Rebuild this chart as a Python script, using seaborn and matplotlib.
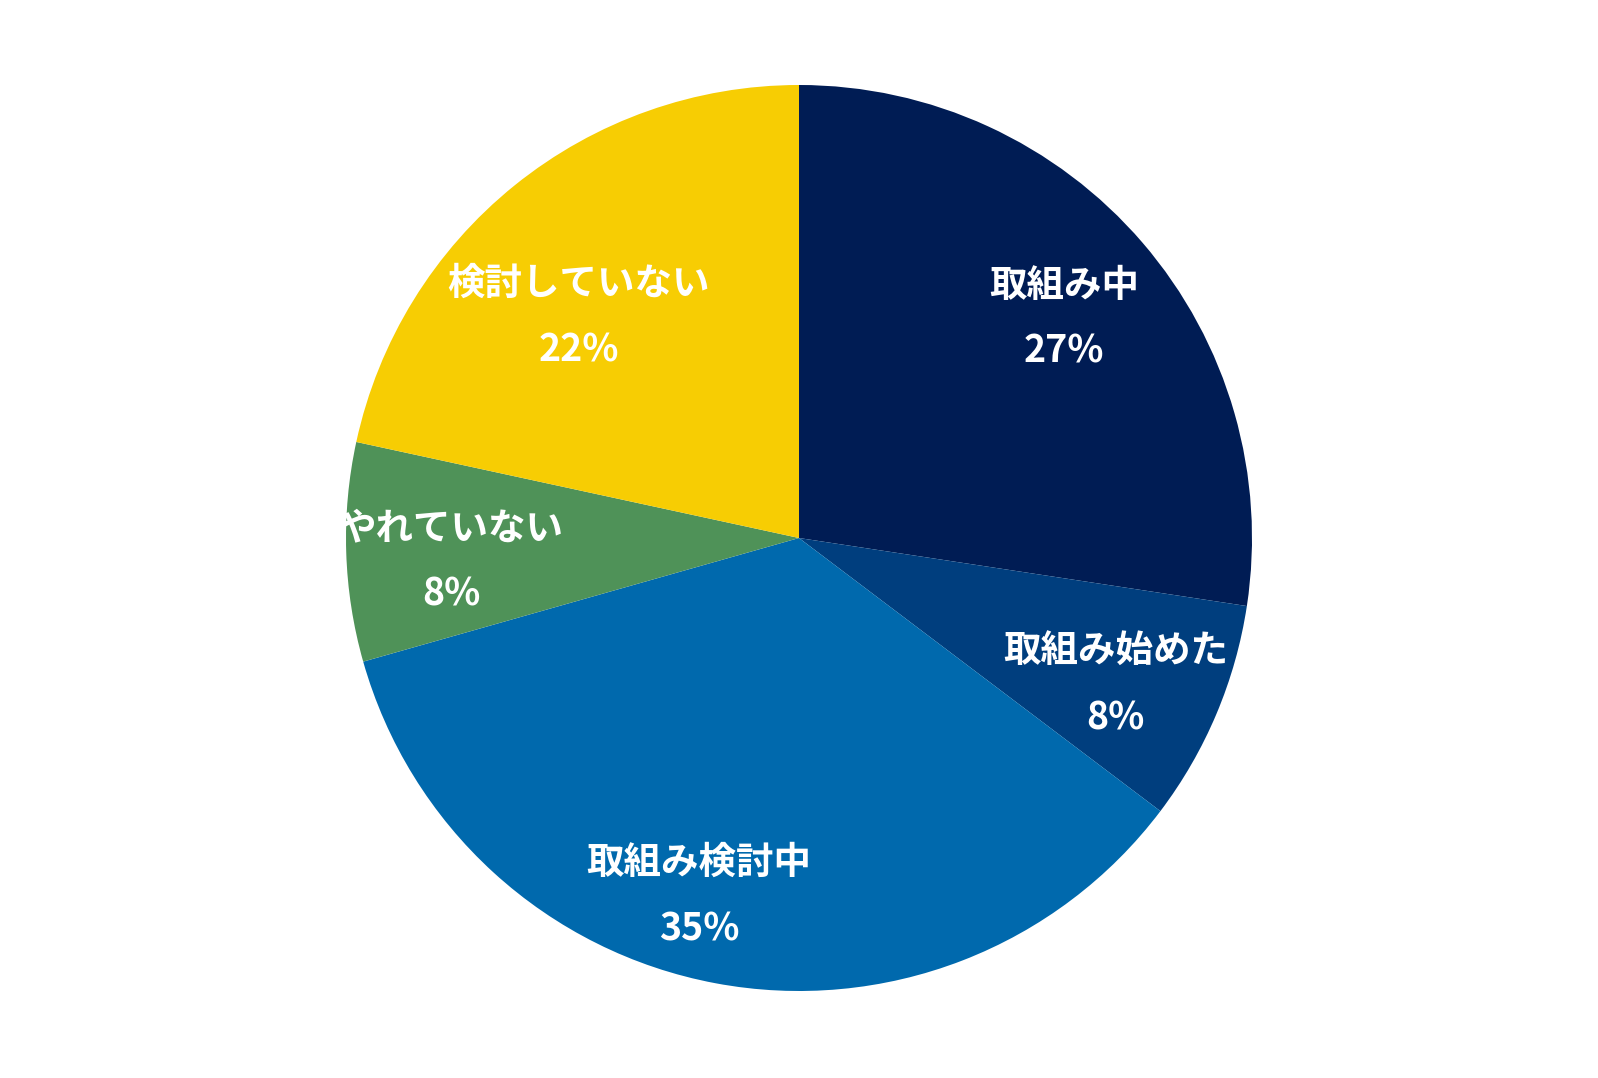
import numpy as np
import seaborn as sns
import matplotlib
matplotlib.use('Agg')
import matplotlib.pyplot as plt

# shares (% of respondents), clockwise from 12 o'clock
categories = ['取組み中', '取組み始めた', '取組み検討中', 'やれていない', '検討していない']
shares = [27.4, 7.9, 35.3, 7.8, 21.6]
colors = ['#001c54', '#003e7e', '#0069ad', '#4f9258', '#f7cd03']

# label placement tweaks (radius as fraction, angle nudge in degrees)
label_r = [0.76, 0.77, 0.82, 0.77, 0.69]
label_nudge = [-1, -2, -5, 2, 6]

sns.set_theme(style="white")
plt.rcParams['font.family'] = ['Noto Sans CJK JP', 'DejaVu Sans']

fig = plt.figure(figsize=(15.98, 10.78), dpi=100)
# pie centre ~ (799, 538) px, radius ~453 px
ax = fig.add_axes([346 / 1598, 87 / 1078, 906 / 1598, 906 / 1078])

wedges, _ = ax.pie(shares, colors=sns.color_palette(colors), startangle=90,
                   counterclock=False, wedgeprops=dict(linewidth=0))

for w, name, v, r, nd in zip(wedges, categories, shares, label_r, label_nudge):
    ang = np.deg2rad((w.theta1 + w.theta2) / 2 + nd)
    ax.text(r * np.cos(ang), r * np.sin(ang), f'{name}\n{v:.0f}%',
            ha='center', va='center', color='white', fontsize=27,
            fontweight='bold', linespacing=1.88)

ax.set_xlim(-1, 1)
ax.set_ylim(-1, 1)
ax.set_aspect('equal')
ax.axis('off')

fig.savefig('out.png', dpi=100, facecolor='white')
